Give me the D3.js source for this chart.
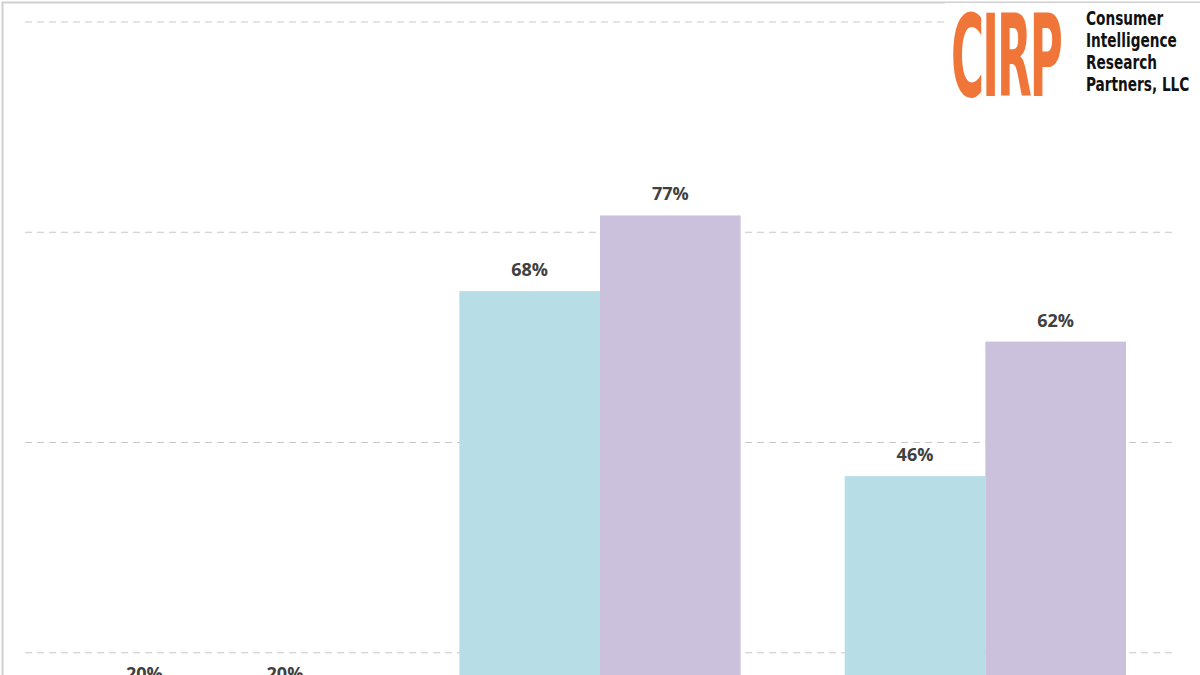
<!DOCTYPE html>
<html lang="en">
<head>
<meta charset="UTF-8">
<title>CIRP chart</title>
<script src="https://cdn.jsdelivr.net/npm/d3@7"></script>
<style>
    html, body { margin: 0; background: #fff; }
    svg { display: block; }
</style>
</head>
<body>
<script>
    // Values (bottom of the chart is cropped)
    const categories = ["Group 1", "Group 2", "Group 3"];
    const series = ["Series 1", "Series 2"];
    const seriesA = [20, 68, 46];
    const seriesB = [20, 77, 62];
    const gridTicks = [25, 50, 75, 100];
    const colors = ["#b7dde6", "#ccc1dc"];

    const width = 1200, height = 675;
    const svg = d3.select("body").append("svg")
        .attr("width", width).attr("height", height);

    // frame border (top and left visible)
    svg.append("path")
        .attr("d", "M2.5,675 V2.5 H1200")
        .attr("fill", "none").attr("stroke", "#d0d0d0").attr("stroke-width", 2);

    const y = d3.scaleLinear().domain([0, 100]).range([863, 22]);
    const x0 = d3.scaleBand().domain(categories).range([22, 1178])
        .paddingInner(0.27).paddingOuter(0.135);
    const x1 = d3.scaleBand().domain(series).range([0, x0.bandwidth()]);

    svg.append("g").selectAll("line").data(gridTicks).join("line")
        .attr("x1", 25).attr("x2", 1175)
        .attr("y1", d => y(d)).attr("y2", d => y(d))
        .attr("stroke", "#c8c8c8").attr("stroke-width", 1)
        .attr("stroke-dasharray", "7,5");

    const rows = categories.map((c, i) => ({ c, vals: [seriesA[i], seriesB[i]] }));
    const g = svg.append("g").selectAll("g").data(rows).join("g")
        .attr("transform", d => `translate(${x0(d.c)},0)`);

    g.selectAll("rect").data(d => d.vals.map((v, j) => ({ v, s: series[j], j })))
        .join("rect")
        .attr("x", d => x1(d.s)).attr("width", x1.bandwidth())
        .attr("y", d => y(d.v)).attr("height", d => y(0) - y(d.v))
        .attr("fill", d => colors[d.j]);

    g.selectAll("text").data(d => d.vals.map((v, j) => ({ v, s: series[j] })))
        .join("text")
        .attr("x", d => x1(d.s) + x1.bandwidth() / 2)
        .attr("y", d => y(d.v) - 15)
        .attr("text-anchor", "middle")
        .attr("font-family", "'Open Sans', sans-serif")
        .attr("font-weight", "bold").attr("font-size", 18)
        .attr("fill", "#404040")
        .text(d => d.v + "%");

    // logo
    const logo = svg.append("g");
    logo.append("rect").attr("x", 945).attr("y", 3).attr("width", 255).attr("height", 100).attr("fill", "#fff");
    logo.append("text")
        .attr("x", 0).attr("y", 0)
        .attr("transform", "translate(951,96) scale(0.66,1.5)")
        .attr("font-family", "'DejaVu Sans Condensed', 'DejaVu Sans'")
        .attr("font-weight", "bold").attr("font-size", 76)
        .attr("letter-spacing", -3)
        .attr("fill", "#f07538")
        .text("CIRP");
    const lines = ["Consumer", "Intelligence", "Research", "Partners, LLC"];
    logo.selectAll("text.l").data(lines).join("text").attr("class", "l")
        .attr("transform", (d, i) => `translate(1086,${25 + i * 22}) scale(0.8,1)`)
        .attr("font-family", "'DejaVu Sans Condensed', 'DejaVu Sans'")
        .attr("font-weight", "bold").attr("font-size", 19)
        .attr("fill", "#111")
        .text(d => d);
</script>
</body>
</html>
